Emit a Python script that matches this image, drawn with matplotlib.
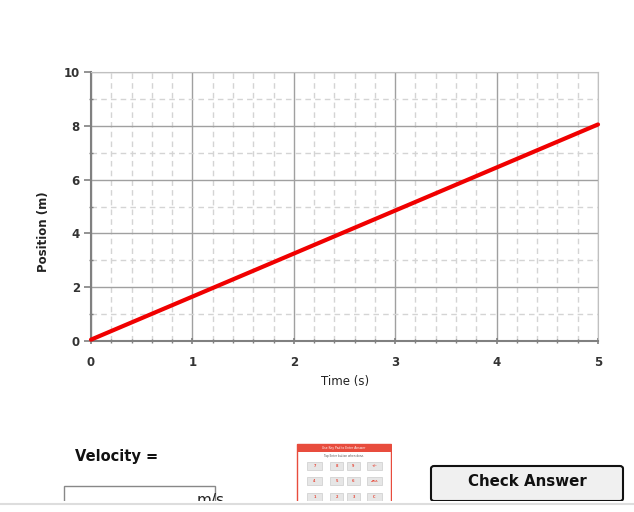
import matplotlib.pyplot as plt
from matplotlib.patches import Rectangle, FancyBboxPatch
from matplotlib.ticker import MultipleLocator
from matplotlib.lines import Line2D

# data
time_s = [0, 5]
position_m = [0.05, 8.05]
x_ticks = [0, 1, 2, 3, 4, 5]
y_ticks = [0, 2, 4, 6, 8, 10]
keypad_rows = [['7', '8', '9', '+/-'], ['4', '5', '6', 'Back\nSpace'], ['1', '2', '3', 'C']]

W, H = 634, 512
fig = plt.figure(figsize=(W / 100, H / 100), dpi=100)
fig.patch.set_facecolor('white')

def fx(px):
    return px / W

def fy(py):
    return 1 - py / H

# main chart
ax = fig.add_axes([fx(91), fy(341), fx(598) - fx(91), fy(72) - fy(341)])
ax.plot(time_s, position_m, color='#f00000', lw=3, solid_capstyle='round', zorder=5, clip_on=False)
ax.set_xlim(0, 5)
ax.set_ylim(0, 10)
ax.set_xticks(x_ticks)
ax.set_yticks(y_ticks)
ax.xaxis.set_minor_locator(MultipleLocator(0.2))
ax.yaxis.set_minor_locator(MultipleLocator(1))
ax.grid(which='major', color='#a0a0a0', lw=1, ls='-')
ax.grid(which='minor', color='#d4d4d4', lw=1, ls=(0, (4, 3)))
ax.set_axisbelow(True)
for s in ['top', 'right']:
    ax.spines[s].set_color('#c0c0c0')
for s in ['left', 'bottom']:
    ax.spines[s].set_color('#808080')
    ax.spines[s].set_linewidth(1.5)
ax.tick_params(which='major', length=5, width=1.2, color='#808080', labelsize=8.5, labelcolor='#333333', pad=3)
ax.tick_params(which='minor', length=3, width=1, color='#808080', direction='inout')
ax.tick_params(axis='x', which='major', pad=8, direction='inout')
for lab in ax.get_xticklabels() + ax.get_yticklabels():
    lab.set_fontweight('semibold')
ax.set_xlabel('Time (s)', fontsize=8.5, color='#222222')
ax.xaxis.set_label_coords((345 - 91) / (598 - 91), -(375 - 341) / (341 - 72))
ax.set_ylabel('Position (m)', fontsize=8.5, color='#222222', fontweight='semibold')
ax.yaxis.set_label_coords(-(91 - 50) / (598 - 91), (341 - 232) / (341 - 72))

# answer area
fig.text(fx(75), fy(457), 'Velocity =', fontsize=10.5, fontweight='bold', va='center', ha='left', color='#111111')
fig.patches.append(Rectangle((fx(64), fy(520)), fx(215) - fx(64), fy(486) - fy(520),
                             transform=fig.transFigure, fill=False, ec='#888888', lw=1))
fig.text(fx(197), fy(508), 'm/s', fontsize=11, va='bottom', ha='left', color='#222222')

# button
fig.patches.append(FancyBboxPatch((fx(431), fy(501)), fx(623) - fx(431), fy(466) - fy(501),
                                  boxstyle='round,pad=0,rounding_size=0.005',
                                  transform=fig.transFigure, fc='#f0f0f0', ec='#111111', lw=1.5))
fig.text(fx(527), fy(482), 'Check Answer', fontsize=10.8, fontweight='bold', ha='center', va='center', color='#111111')

# keypad thumbnail
kp = fig.add_axes([fx(296), fy(506), fx(392) - fx(296), fy(443) - fy(506)])
kp.set_xlim(296, 392)
kp.set_ylim(506, 443)
kp.axis('off')
kp.add_patch(Rectangle((297, 444), 94, 70, fc='white', ec='#e84c3d', lw=1))
kp.add_patch(Rectangle((297, 444), 94, 8, fc='#e84c3d', ec='#e84c3d', lw=0))
kp.text(344, 448, 'Use Key Pad to Enter Answer', fontsize=2.2, color='white', ha='center', va='center')
kp.text(344, 455.5, 'Tap Enter button when done.', fontsize=2, color='#555555', ha='center', va='center')
key_x = [307, 330, 347, 367]
key_w = [15, 13, 13, 15]
key_y = [462, 477, 493]
for r, row in enumerate(keypad_rows):
    for c, k in enumerate(row):
        kp.add_patch(Rectangle((key_x[c], key_y[r]), key_w[c], 8, fc='#e6e6e6', ec='#cccccc', lw=0.5))
        kp.text(key_x[c] + key_w[c] / 2, key_y[r] + 4, k, fontsize=2.5 if len(k) < 4 else 1.6,
                color='#e84c3d', ha='center', va='center', fontweight='bold')

# clipped bottom edge with thin divider
fig.patches.append(Rectangle((0, 0), 1, fy(501), transform=fig.transFigure, fc='white', ec='none', zorder=10))
fig.lines.append(Line2D([0, 1], [fy(503.5), fy(503.5)], transform=fig.transFigure,
                        color='#dddddd', lw=1.5, zorder=11))

fig.savefig('out.png', dpi=100)
